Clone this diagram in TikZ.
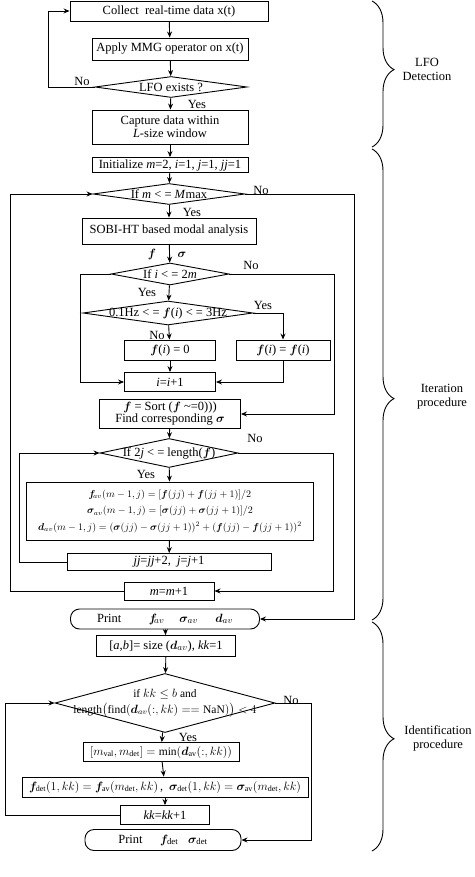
\documentclass[tikz,border=0pt]{standalone}
\usepackage{amsmath,bm}
\usepackage{fontspec}
\setmainfont{Liberation Serif}
\usetikzlibrary{shapes.geometric,arrows.meta,decorations.pathreplacing}
\begin{document}
\begin{tikzpicture}[x=1pt,y=-1pt,
  every node/.style={font=\fontsize{12.5}{14}\selectfont},
  box/.style={draw,line width=0.9pt,inner sep=0pt,align=center},
  rbox/.style={box,rounded corners=9pt},
  dia/.style={draw,diamond,line width=0.9pt,inner sep=0pt},
  lab/.style={inner sep=0pt},
  ar/.style={line width=0.9pt,-{Stealth[length=6pt,width=5pt]}},
  br/.style={line width=0.9pt,decorate}]
\useasboundingbox (0,0) rectangle (474,877);
% LFO detection
\node[box,minimum width=198,minimum height=20] (n1) at (169,11) {Collect\ \ real-time data x(t)};
\node[box,minimum width=156,minimum height=22] (n2) at (170,49) {Apply MMG operator on x(t)};
\node[dia,minimum width=152,minimum height=21] (d1) at (171,87) {};
\node[lab] (d1t) at (d1) {LFO exists ?};
\node[box,minimum width=156,minimum height=34] (n3) at (170,127) {Capture data within\\[-1pt]\textit{L}-size window};
% iteration
\node[box,minimum width=156,minimum height=15] (n4) at (170,165) {Initialize \textit{m}=2, \textit{i}=1, \textit{j}=1, \textit{jj}=1};
\node[dia,minimum width=152,minimum height=21] (d2) at (169,194) {};
\node[lab] (d2t) at (d2) {If \textit{m} < = \textit{M}max};
\node[box,minimum width=174,minimum height=26] (n5) at (169,231) {SOBI-HT based modal analysis};
\node[dia,minimum width=118,minimum height=22] (d3) at (170,274) {};
\node[lab] (d3t) at (d3) {If \textit{i} < = 2\textit{m}};
\node[dia,minimum width=170,minimum height=24] (d4) at (168,313) {};
\node[lab] (d4t) at (d4) {0.1Hz < = $\bm{f}$(\textit{i}) < = 3Hz};
\node[box,minimum width=91,minimum height=20] (n6) at (170,350) {$\bm{f}$(\textit{i}) = 0};
\node[box,minimum width=94,minimum height=20] (n7) at (283,350) {$\bm{f}$(\textit{i}) = $\bm{f}$(\textit{i})};
\node[box,minimum width=91,minimum height=19] (n8) at (170,382) {\textit{i}=\textit{i}+1};
\node[box,minimum width=141,minimum height=29] (n9) at (170,414) {$\bm{f}$ = Sort ($\bm{f}$ \char`~=0)))\\[-2pt]Find corresponding $\bm{\sigma}$};
\node[dia,minimum width=138,minimum height=29] (d5) at (169,453) {};
\node[lab] (d5t) at (d5) {If 2\textit{j} < = length($\bm{f}$)};
\node[box,minimum width=287,minimum height=58,font=\fontsize{10.3}{12.5}\selectfont] (n10) at (170,511) {%
$\bm{f}_{\!av}(m-1,j)=[\bm{f}(jj)+\bm{f}(jj+1)]/2$\\[4pt]
$\bm{\sigma}_{av}(m-1,j)=[\bm{\sigma}(jj)+\bm{\sigma}(jj+1)]/2$\\[4pt]
$\bm{d}_{av}(m-1,j)=(\bm{\sigma}(jj)-\bm{\sigma}(jj+1))^2+(\bm{f}(jj)-\bm{f}(jj+1))^2$};
\node[box,minimum width=204,minimum height=17] (n11) at (169,562) {\textit{jj}=\textit{jj}+2,\ \ \textit{j}=\textit{j}+1};
\node[box,minimum width=90,minimum height=18] (n12) at (169,591) {\textit{m}=\textit{m}+1};
\node[rbox,minimum width=189,minimum height=20] (n13) at (165,619) {Print\hspace{2.2em}$\bm{f}_{\!av}$\hspace{1.2em}$\bm{\sigma}_{av}$\hspace{1.4em}$\bm{d}_{av}$};
% identification
\node[box,minimum width=139,minimum height=21] (n14) at (166,646) {[\textit{a},\textit{b}]= size ($\bm{d}_{av}$), \textit{kk}=1};
\node[dia,minimum width=220,minimum height=59] (d6) at (165,703) {};
\node[lab,align=center,font=\fontsize{11.5}{13}\selectfont] (d6t) at (d6) {if $kk\le b$ and\\[3pt]$\mathrm{length}\bigl(\mathrm{find}(\bm{d}_{av}(:,kk)==\mathrm{NaN})\bigr)<4$};
\node[box,minimum width=156,minimum height=19,font=\fontsize{11.5}{14}\selectfont] (n15) at (161,752) {$[m_{\mathrm{val}},m_{\mathrm{det}}]=\min(\bm{d}_{\mathrm{av}}(:,kk))$};
\node[box,minimum width=286,minimum height=20,font=\fontsize{12}{14}\selectfont] (n16) at (165,787) {$\bm{f}_{\mathrm{det}}(1,kk)=\bm{f}_{\mathrm{av}}(m_{\mathrm{det}},kk)$\,,\ \ $\bm{\sigma}_{\mathrm{det}}(1,kk)=\bm{\sigma}_{\mathrm{av}}(m_{\mathrm{det}},kk)$};
\node[box,minimum width=89,minimum height=19] (n17) at (165,815) {\textit{kk}=\textit{kk}+1};
\node[rbox,minimum width=156,minimum height=21] (n18) at (163,840) {Print\hspace{1.4em}$\bm{f}_{\mathrm{det}}$\hspace{0.8em}$\bm{\sigma}_{\mathrm{det}}$};
% straight arrows
\draw[ar] (n1) -- (n2);
\draw[ar] (n2) -- (d1);
\draw[ar] (d1) -- (n3);
\draw[ar] (n3) -- (n4);
\draw[ar] (n4) -- (d2);
\draw[ar] (d2) -- (n5);
\draw[ar] (n5) -- (d3);
\draw[ar] (d3) -- (d4);
\draw[ar] (d4) -- (n6);
\draw[ar] (n6) -- (n8);
\draw[ar] (n9) -- (d5);
\draw[ar] (d5) -- (n10);
\draw[ar] (n10) -- (n11);
\draw[ar] (n13) -- (n14);
\draw[ar] (n14) -- (d6);
\draw[ar] (d6) -- (n15);
\draw[ar] (n15) -- (n16);
\draw[ar] (n16) -- (n17);
% routed connectors
\coordinate (c1) at (48,87);
\draw[ar] (d1.west) -- (c1) |- (n1.west);
\coordinate (c2) at (354,194);
\draw[ar] (d2.east) -- (c2) |- (n13.east);
\coordinate (c3) at (10,591);
\draw[ar] (n12.west) -- (c3) |- (d2.west);
\coordinate (c4) at (334,274);
\draw[ar] (d3.east) -- (c4) |- (n9.east);
\coordinate (c5) at (80,274);
\draw[ar] (d3.west) -- (c5) |- (n8.west);
\draw[ar] (d4.east) -| (n7.north);
\draw[ar] (n7.south) |- (n8.east);
\coordinate (c6) at (333,453);
\draw[ar] (d5.east) -- (c6) |- (n12.east);
\coordinate (c7) at (19,562);
\draw[ar] (n11.west) -- (c7) |- (d5.west);
\coordinate (c8) at (311,703);
\draw[ar] (d6.east) -- (c8) |- (n18.east);
\coordinate (c9) at (5,815);
\draw[ar] (n17.west) -- (c9) |- (d6.west);
% labels
\node[lab] (l1) at (82,81) {No};
\node[lab] (l2) at (197,104) {Yes};
\node[lab] (l3) at (261,190) {No};
\node[lab] (l4) at (192,212) {Yes};
\node[lab] (l5) at (152,255) {$\bm{f}$};
\node[lab] (l6) at (182,255) {$\bm{\sigma}$};
\node[lab] (l7) at (251,265) {No};
\node[lab] (l8) at (147,292) {Yes};
\node[lab] (l9) at (263,305) {Yes};
\node[lab] (l10) at (157,335) {No};
\node[lab] (l11) at (255,438) {No};
\node[lab] (l12) at (146,474) {Yes};
\node[lab] (l13) at (291,700) {No};
\node[lab] (l14) at (188,737) {Yes};
% braces
\coordinate (b1a) at (372,1);
\coordinate (b1b) at (372,147);
\draw[br,decoration={brace,amplitude=22pt,aspect=0.47}] (b1a) -- (b1b);
\coordinate (b2a) at (372,149);
\coordinate (b2b) at (372,620);
\draw[br,decoration={brace,amplitude=22pt,aspect=0.53}] (b2a) -- (b2b);
\coordinate (b3a) at (372,622);
\coordinate (b3b) at (372,851);
\draw[br,decoration={brace,amplitude=22pt,aspect=0.51}] (b3a) -- (b3b);
\node[lab,align=center] (t1) at (427,69) {LFO\\Detection};
\node[lab,align=center] (t2) at (442,397) {Iteration\\procedure};
\node[lab,align=center] (t3) at (438,738) {Identification\\procedure};
\end{tikzpicture}
\end{document}
